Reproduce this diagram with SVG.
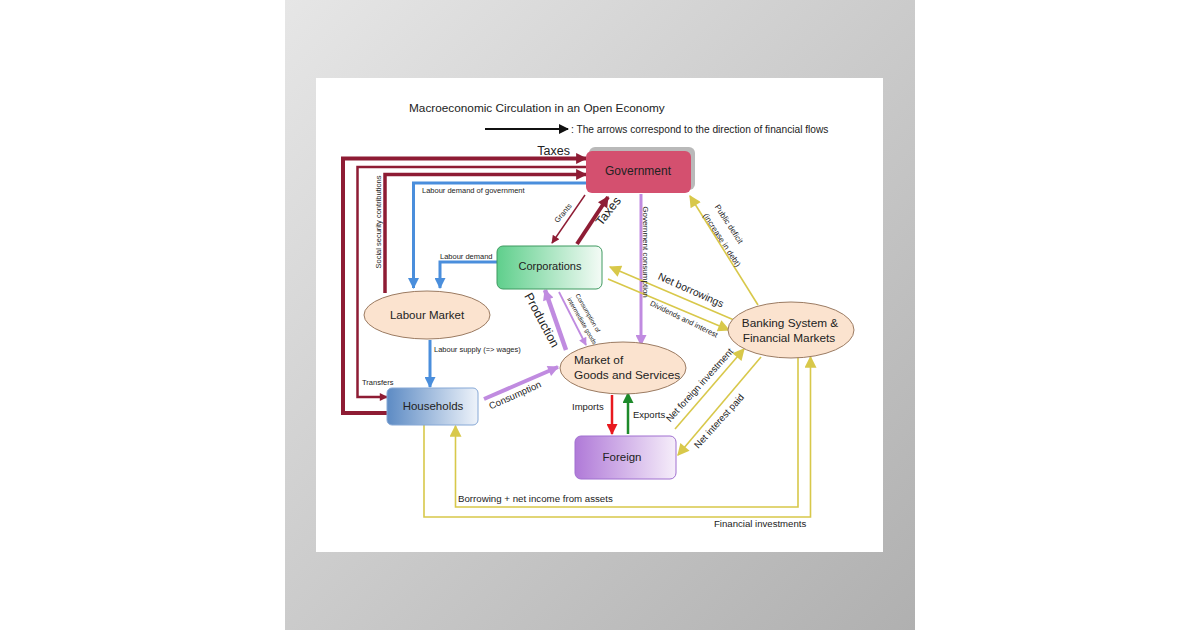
<svg xmlns="http://www.w3.org/2000/svg" width="1200" height="630" viewBox="0 0 1200 630">
<style>
text{font-family:"Liberation Sans",Arial,sans-serif;fill:#222}
.node{font-size:11.5px;text-anchor:middle}
.s7{font-size:7.5px}
.s8{font-size:9.5px}
.mid{text-anchor:middle}
.ell{fill:#fbe3cf;stroke:#9b7b62;stroke-width:1}
.c{fill:none}
.dr{stroke:#8e1c34}
.bl{stroke:#4a8edc;stroke-width:3}
.pu{stroke:#c08be0}
.ye{stroke:#d8c84a;stroke-width:1.6}
</style>
<defs>
<linearGradient id="panel" x1="0" y1="0" x2="1" y2="1">
<stop offset="0" stop-color="#e6e6e6"/>
<stop offset="1" stop-color="#b0b0b0"/>
</linearGradient>
<linearGradient id="gCorp" x1="0" y1="0" x2="1" y2="0">
<stop offset="0" stop-color="#5fcf8c"/>
<stop offset="1" stop-color="#f4fbf6"/>
</linearGradient>
<linearGradient id="gHouse" x1="0" y1="0" x2="1" y2="0">
<stop offset="0" stop-color="#5d8bc4"/>
<stop offset="1" stop-color="#eef3fa"/>
</linearGradient>
<linearGradient id="gFor" x1="0" y1="0" x2="1" y2="0">
<stop offset="0" stop-color="#b07ad8"/>
<stop offset="1" stop-color="#f6eefa"/>
</linearGradient>
<marker id="aBlk" viewBox="0 0 10 10" refX="9" refY="5" markerWidth="14" markerHeight="10" markerUnits="userSpaceOnUse" orient="auto"><path d="M0,0L10,5L0,10z" fill="#111"/></marker>
<marker id="aDr" viewBox="0 0 10 10" refX="9" refY="5" markerWidth="14" markerHeight="11" markerUnits="userSpaceOnUse" orient="auto"><path d="M0,0L10,5L0,10z" fill="#8e1c34"/></marker>
<marker id="aDrS" viewBox="0 0 10 10" refX="9" refY="5" markerWidth="10" markerHeight="8" markerUnits="userSpaceOnUse" orient="auto"><path d="M0,0L10,5L0,10z" fill="#8e1c34"/></marker>
<marker id="aBl" viewBox="0 0 10 10" refX="9" refY="5" markerWidth="13" markerHeight="11" markerUnits="userSpaceOnUse" orient="auto"><path d="M0,0L10,5L0,10z" fill="#4a8edc"/></marker>
<marker id="aPu" viewBox="0 0 10 10" refX="9" refY="5" markerWidth="14" markerHeight="11" markerUnits="userSpaceOnUse" orient="auto"><path d="M0,0L10,5L0,10z" fill="#c08be0"/></marker>
<marker id="aPuS" viewBox="0 0 10 10" refX="9" refY="5" markerWidth="10" markerHeight="8" markerUnits="userSpaceOnUse" orient="auto"><path d="M0,0L10,5L0,10z" fill="#c08be0"/></marker>
<marker id="aYe" viewBox="0 0 10 10" refX="9" refY="5" markerWidth="14" markerHeight="12" markerUnits="userSpaceOnUse" orient="auto"><path d="M0,0L10,5L0,10z" fill="#d8c84a"/></marker>
<marker id="aRd" viewBox="0 0 10 10" refX="9" refY="5" markerWidth="13" markerHeight="11" markerUnits="userSpaceOnUse" orient="auto"><path d="M0,0L10,5L0,10z" fill="#e8191e"/></marker>
<marker id="aGr" viewBox="0 0 10 10" refX="9" refY="5" markerWidth="13" markerHeight="11" markerUnits="userSpaceOnUse" orient="auto"><path d="M0,0L10,5L0,10z" fill="#1d8a2a"/></marker>
</defs>

<rect x="0" y="0" width="1200" height="630" fill="#ffffff"/>
<rect x="285" y="0" width="630" height="630" fill="url(#panel)"/>
<rect x="316" y="78" width="567" height="474" fill="#ffffff"/>

<g id="title">
<text x="409" y="112" style="font-size:11.8px">Macroeconomic Circulation in an Open Economy</text>
<line x1="485" y1="129" x2="568" y2="129" stroke="#111" stroke-width="2.2" marker-end="url(#aBlk)"/>
<text x="571" y="132.5" style="font-size:10.2px">: The arrows correspond to the direction of financial flows</text>
</g>

<g id="connectors">
<!-- Taxes (households to government) -->
<path class="c dr" d="M387,413H343V158.5H586" stroke-width="4" marker-end="url(#aDr)"/>
<!-- Transfers -->
<path class="c dr" d="M586,167H357.5V397H387" stroke-width="2.5" marker-end="url(#aDrS)"/>
<!-- Social security contributions -->
<path class="c dr" d="M385,293V174.5H586" stroke-width="3.5" marker-end="url(#aDr)"/>
<!-- Labour demand of government -->
<path class="c bl" d="M586,183H413.5V288" marker-end="url(#aBl)"/>
<!-- Labour demand -->
<path class="c bl" d="M497,262H440V288" marker-end="url(#aBl)"/>
<!-- Labour supply -->
<path class="c bl" d="M430,340V387" marker-end="url(#aBl)"/>
<!-- Grants -->
<path class="c dr" d="M585,195L552,243" stroke-width="1.5" marker-end="url(#aDrS)"/>
<!-- Taxes corporations -->
<path class="c dr" d="M577,244L608,197" stroke-width="4" marker-end="url(#aDr)"/>
<!-- Government consumption -->
<path class="c pu" d="M641,194V345" stroke-width="3" marker-end="url(#aPu)"/>
<!-- Production -->
<path class="c pu" d="M566,350L545,290" stroke-width="4.5" marker-end="url(#aPu)"/>
<!-- Consumption of intermediate goods -->
<path class="c pu" d="M559,292L586,345" stroke-width="1.8" marker-end="url(#aPuS)"/>
<!-- Consumption -->
<path class="c pu" d="M484,399L558,367" stroke-width="4" marker-end="url(#aPu)"/>
<!-- Imports -->
<path class="c" d="M612,395V434" stroke="#e8191e" stroke-width="2.5" marker-end="url(#aRd)"/>
<!-- Exports -->
<path class="c" d="M628,434V393" stroke="#1d8a2a" stroke-width="2.5" marker-end="url(#aGr)"/>
<!-- Public deficit -->
<path class="c ye" d="M758,305L690,196" marker-end="url(#aYe)"/>
<!-- Net borrowings -->
<path class="c ye" d="M734,320L610,267" marker-end="url(#aYe)"/>
<!-- Dividends and interest -->
<path class="c ye" d="M608,279L729,330" marker-end="url(#aYe)"/>
<!-- Net foreign investment -->
<path class="c ye" d="M675,429L744,349" marker-end="url(#aYe)"/>
<!-- Net interest paid -->
<path class="c ye" d="M761,357L678,455" marker-end="url(#aYe)"/>
<!-- Borrowing + net income from assets -->
<path class="c ye" d="M798,357V507H455.5V426" marker-end="url(#aYe)"/>
<!-- Financial investments -->
<path class="c ye" d="M424,425V517H810.5V357" marker-end="url(#aYe)"/>
</g>

<g id="labels">
<text x="570" y="155" text-anchor="end" style="font-size:12.5px">Taxes</text>
<text x="422" y="193" class="s7">Labour demand of government</text>
<text transform="translate(380.5,222) rotate(-90)" class="s7 mid">Social security contributions</text>
<text x="440" y="258.5" class="s7">Labour demand</text>
<text x="434" y="352" class="s7">Labour supply (=&gt; wages)</text>
<text x="362" y="384.5" class="s7">Transfers</text>
<text transform="translate(563,213) rotate(-50)" class="s7 mid" dy="0.35em">Grants</text>
<text transform="translate(608,211) rotate(-52)" class="mid" dy="0.35em" style="font-size:12.5px">Taxes</text>
<text transform="translate(646,252) rotate(90)" class="mid" dy="0.35em" style="font-size:8px">Government consumption</text>
<text transform="translate(542,320) rotate(62)" class="mid" dy="0.35em" style="font-size:12.5px">Production</text>
<text transform="translate(588,313) rotate(60)" class="mid" dy="0.35em" style="font-size:6.2px">Consumption of</text>
<text transform="translate(582,321) rotate(60)" class="mid" dy="0.35em" style="font-size:6.2px">intermediate goods</text>
<text transform="translate(515,395) rotate(-24)" class="mid" dy="0.35em" style="font-size:9.5px">Consumption</text>
<text x="572" y="410" class="s8">Imports</text>
<text x="633" y="418" class="s8">Exports</text>
<text transform="translate(729,224) rotate(57)" class="mid" dy="0.35em" style="font-size:8px">Public deficit</text>
<text transform="translate(722,240) rotate(57)" class="mid" dy="0.35em" style="font-size:8px">(increase in debt)</text>
<text transform="translate(691,290) rotate(24)" class="mid" dy="0.35em" style="font-size:10.5px">Net borrowings</text>
<text transform="translate(684,319) rotate(26)" class="s7 mid" dy="0.35em">Dividends and interest</text>
<text transform="translate(699.5,385) rotate(-48)" class="mid" dy="0.35em" style="font-size:9.5px">Net foreign investment</text>
<text transform="translate(719,421) rotate(-48)" class="mid" dy="0.35em" style="font-size:9.5px">Net interest paid</text>
<text x="458" y="502" style="font-size:9.7px">Borrowing + net income from assets</text>
<text x="714" y="527" style="font-size:9.6px">Financial investments</text>
</g>

<g id="government">
<rect x="589" y="147" width="106" height="43" rx="6" fill="#b9b9b9"/>
<rect x="586" y="151" width="105" height="42" rx="6" fill="#d4506f"/>
<text x="638" y="175" class="node" style="font-size:12px">Government</text>
</g>
<g id="corporations">
<rect x="497" y="246" width="105" height="43" rx="6" fill="url(#gCorp)" stroke="#3f9a60" stroke-width="1"/>
<text x="550" y="270" class="node" style="font-size:11px">Corporations</text>
</g>
<g id="labour-market">
<ellipse cx="427" cy="315" rx="63" ry="24" class="ell"/>
<text x="427" y="319" class="node">Labour Market</text>
</g>
<g id="market">
<ellipse cx="623" cy="368" rx="63" ry="26" class="ell"/>
<text x="574" y="364" style="font-size:11.8px">Market of</text>
<text x="574" y="379" style="font-size:11.8px">Goods and Services</text>
</g>
<g id="banking">
<ellipse cx="791" cy="330" rx="63" ry="28" class="ell"/>
<text x="790" y="327" class="node" style="font-size:11.8px">Banking System &amp;</text>
<text x="789" y="342" class="node" style="font-size:11.8px">Financial Markets</text>
</g>
<g id="households">
<rect x="387" y="388" width="91" height="37" rx="5" fill="url(#gHouse)" stroke="#86a8d6" stroke-width="1"/>
<text x="433" y="410" class="node">Households</text>
</g>
<g id="foreign">
<rect x="575" y="436" width="101" height="43" rx="6" fill="url(#gFor)" stroke="#a070d0" stroke-width="1"/>
<text x="622" y="461" class="node">Foreign</text>
</g>
</svg>
